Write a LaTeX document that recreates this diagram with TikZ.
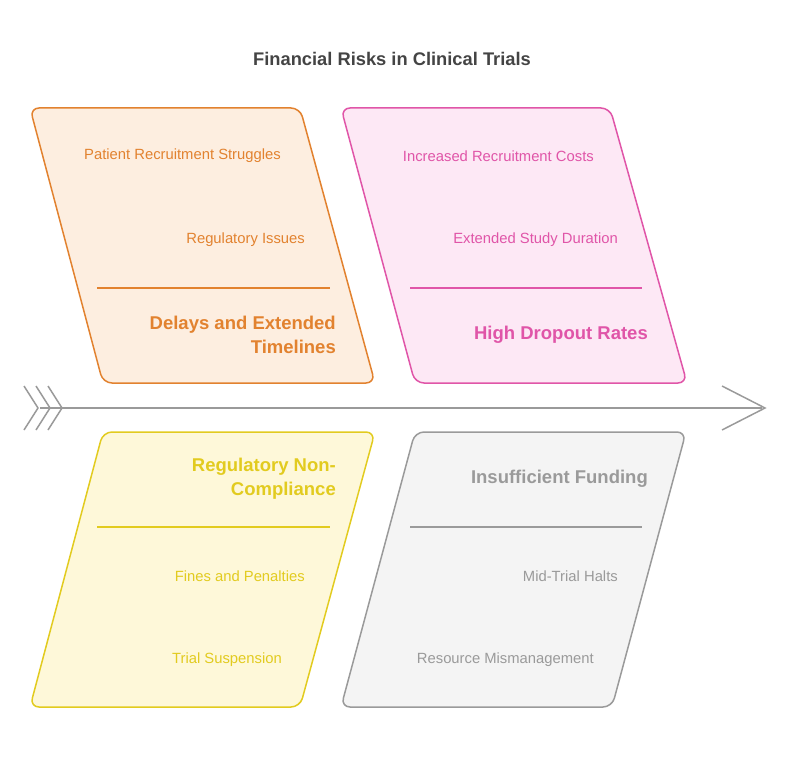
\documentclass[tikz,border=0pt]{standalone}
\usepackage{fontspec}
\setmainfont{Liberation Sans}
\definecolor{orS}{HTML}{E2822F}\definecolor{orF}{HTML}{FDEEE0}
\definecolor{pkS}{HTML}{E055A8}\definecolor{pkF}{HTML}{FDE8F5}
\definecolor{ylS}{HTML}{E2CB1F}\definecolor{ylF}{HTML}{FEF8D9}
\definecolor{gyS}{HTML}{9A9A9A}\definecolor{gyF}{HTML}{F4F4F4}
\definecolor{ttl}{HTML}{444444}
\begin{document}
\begin{tikzpicture}[x=1pt,y=-1pt,
  pg/.style={line width=1.5pt,rounded corners=9pt},
  sm/.style={font=\fontsize{14.8}{17}\selectfont,anchor=east,inner sep=0},
  bg/.style={font=\bfseries\fontsize{18.5}{24}\selectfont,anchor=east,align=right,inner sep=0}]
\useasboundingbox (0,0) rectangle (790,757);
\node[font=\bfseries\fontsize{18.3}{20}\selectfont,text=ttl] (title) at (392,59) {Financial Risks in Clinical Trials};
% shapes
\draw[pg,draw=orS,fill=orF] (30,108)--(300,108)--(375,383)--(103,383)--cycle;
\draw[pg,draw=pkS,fill=pkF] (341,108)--(610,108)--(687,383)--(415,383)--cycle;
\draw[pg,draw=ylS,fill=ylF] (103,432)--(375,432)--(300,707)--(30,707)--cycle;
\draw[pg,draw=gyS,fill=gyF] (415,432)--(686,432)--(612,707)--(341,707)--cycle;
\draw[orS,line width=1.2pt] (97,288)--(330,288);
\draw[pkS,line width=1.2pt] (410,288)--(642,288);
\draw[ylS,line width=1.2pt] (97,527)--(330,527);
\draw[gyS,line width=1.2pt] (410,527)--(642,527);
% spine
\draw[gyS,line width=1.5pt] (40,408)--(762,408);
\draw[gyS,line width=1.5pt,line join=miter] (722,386)--(765,408)--(722,430);
\foreach \x in {24,36,48}\draw[gyS,line width=1.5pt] (\x,386)--(\x+14,408)--(\x,430);
% texts
\node[sm,text=orS] (a1) at (281,156) {Patient Recruitment Struggles};
\node[sm,text=orS] (a2) at (305,240) {Regulatory Issues};
\node[bg,text=orS] (a3) at (336,335) {Delays and Extended\\Timelines};
\node[sm,text=pkS] (b1) at (594,156) {Increased Recruitment Costs};
\node[sm,text=pkS] (b2) at (618,240) {Extended Study Duration};
\node[bg,text=pkS] (b3) at (648,335) {High Dropout Rates};
\node[bg,text=ylS] (c3) at (336,479) {Regulatory Non-\\Compliance};
\node[sm,text=ylS] (c1) at (305,576) {Fines and Penalties};
\node[sm,text=ylS] (c2) at (282,660) {Trial Suspension};
\node[bg,text=gyS] (d3) at (648,479) {Insufficient Funding};
\node[sm,text=gyS] (d1) at (618,576) {Mid-Trial Halts};
\node[sm,text=gyS] (d2) at (594,660) {Resource Mismanagement};
\end{tikzpicture}
\end{document}
